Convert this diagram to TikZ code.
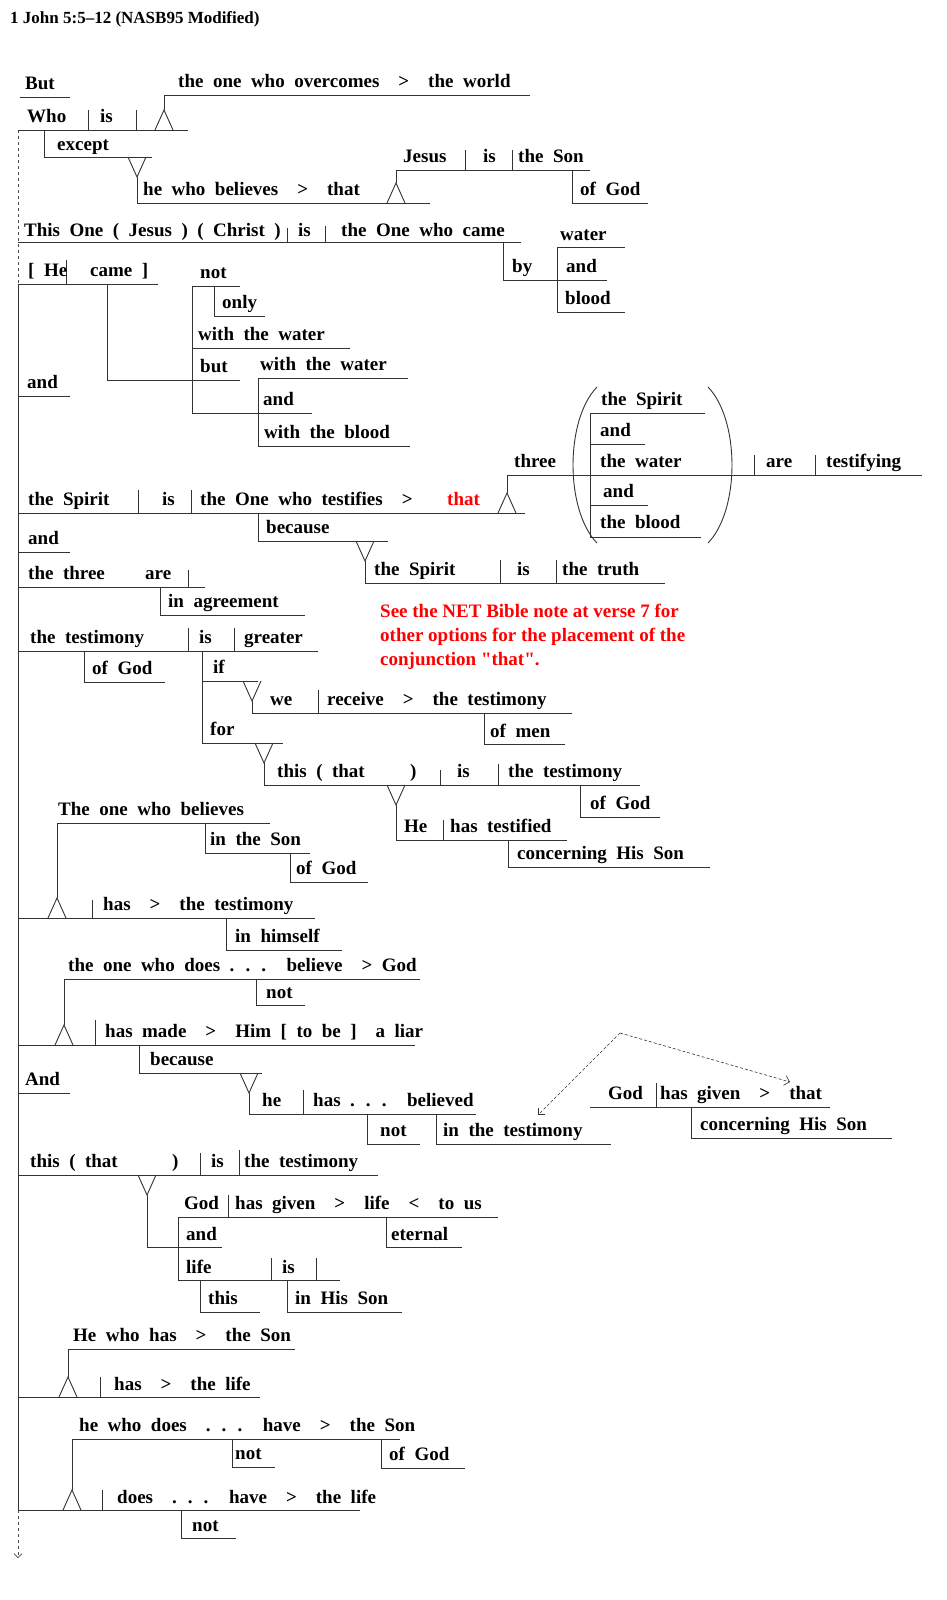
\documentclass[tikz,border=0pt]{standalone}
\usepackage{fontspec}
\setmainfont{Liberation Serif}[WordSpace=2.0]
\newfontfamily\notefont{Liberation Serif}
\usetikzlibrary{arrows.meta}
\newcounter{tn}
\newcommand\T[4][black]{\stepcounter{tn}\node[lbl,text=#1] (t\arabic{tn}) at (#2,#3) {#4};}
\newcommand\hln[3]{\draw[ln] (#1,#3) -- (#2,#3);}
\newcommand\vln[3]{\draw[ln] (#1,#2) -- (#1,#3);}
\newcommand\triup[2]{\draw[ln] (#1-9,#2) -- (#1,#2-20) -- (#1+9,#2);}
\newcommand\tridown[2]{\draw[ln] (#1-9,#2) -- (#1,#2+20) -- (#1+9,#2);}
\begin{document}
\begin{tikzpicture}[x=1pt,y=-1pt,
  lbl/.style={anchor=base west,inner sep=0pt,font=\fontsize{19}{21}\selectfont\bfseries},
  ln/.style={line width=0.9pt,black!80}]
\useasboundingbox (0,0) rectangle (947,1600);
\node[anchor=base west,inner sep=0pt,font=\notefont\fontsize{17}{19}\selectfont\bfseries] (title) at (10,24) {1 John 5:5–12 (NASB95 Modified)};
% left spine
\draw[line width=0.6pt,dashed,black!70] (18,130) -- (18,284);
\vln{18}{284}{1510}
\draw[line width=0.6pt,dashed,black!70,-{Straight Barb[length=4pt]}] (18,1510) -- (18,1558);
% block 1
\T{25}{90}{But}\hln{20}{70}{97}
\hln{18}{188}{130}\vln{88}{110}{130}\vln{136}{110}{130}
\T{27}{123}{Who}\T{100}{123}{is}
\triup{164}{130}\vln{164}{110}{95}\hln{164}{530}{95}
\T{178}{88}{the one who overcomes \ > \ the world}
\vln{44}{130}{157}\hln{44}{152}{157}\T{57}{150}{except}
\tridown{137}{157}\vln{137}{177}{203}\hln{137}{430}{203}
\T{143}{195}{he who believes \ > \ that}
\triup{396}{203}\vln{396}{183}{170}\hln{396}{590}{170}
\vln{465}{150}{170}\vln{512}{150}{170}
\T{403}{162}{Jesus}\T{483}{162}{is}\T{518}{162}{the Son}
\vln{572}{170}{203}\hln{572}{648}{203}\T{580}{195}{of God}
% block 2
\hln{18}{521}{242}\vln{287}{228}{242}\vln{325}{226}{242}
\T{24}{236}{This One ( Jesus ) ( Christ )}\T{298}{236}{is}\T{341}{236}{the One who came}
\vln{503}{242}{280}\hln{503}{557}{280}\T{512}{272}{by}
\vln{557}{247}{312}\hln{557}{625}{247}\hln{557}{607}{280}\hln{557}{625}{312}
\T{560}{240}{water}\T{566}{272}{and}\T{565}{304}{blood}
\hln{18}{158}{284}\vln{66}{260}{284}
\T{28}{276}{[ He}\T{90}{276}{came ]}
\vln{107}{284}{380}\hln{107}{192}{380}
\vln{192}{286}{413}
\hln{192}{240}{286}\T{200}{278}{not}
\vln{214}{286}{316}\hln{214}{265}{316}\T{222}{308}{only}
\hln{192}{350}{348}\T{198}{340}{with the water}
\hln{192}{240}{380}\T{200}{372}{but}
\hln{192}{258}{413}
\vln{258}{378}{446}
\hln{258}{408}{378}\T{260}{370}{with the water}
\hln{258}{312}{413}\T{263}{405}{and}
\hln{258}{410}{446}\T{264}{438}{with the blood}
\hln{18}{70}{396}\T{27}{388}{and}
% block 3
\hln{18}{525}{513}\vln{138}{490}{513}\vln{191}{490}{513}
\T{28}{505}{the Spirit}\T{162}{505}{is}\T{200}{505}{the One who testifies \ >}
\T[red]{447}{505}{that}
\triup{507}{513}\vln{507}{493}{475}\hln{507}{922}{475}
\T{514}{467}{three}
\vln{754}{455}{475}\vln{815}{455}{475}
\T{766}{467}{are}\T{826}{467}{testifying}
\draw[ln] (597,387) .. controls (565,420) and (565,510) .. (597,543);
\draw[ln] (708,387) .. controls (740,420) and (740,510) .. (708,543);
\vln{590}{413}{537}
\hln{590}{705}{413}\T{601}{405}{the Spirit}
\hln{590}{645}{444}\T{600}{436}{and}
\T{600}{467}{the water}
\hln{590}{648}{505}\T{603}{497}{and}
\hln{590}{701}{537}\T{600}{528}{the blood}
\vln{258}{513}{541}\hln{258}{388}{541}\T{266}{533}{because}
\tridown{365}{541}\vln{365}{561}{583}\hln{365}{665}{583}
\vln{500}{560}{583}\vln{556}{560}{583}
\T{374}{575}{the Spirit}\T{517}{575}{is}\T{562}{575}{the truth}
\hln{18}{70}{552}\T{28}{544}{and}
\hln{18}{205}{587}\vln{188}{570}{587}
\T{28}{579}{the three}\T{145}{579}{are}
\vln{160}{587}{615}\hln{160}{305}{615}\T{168}{607}{in agreement}
\node[anchor=north west,inner sep=0pt,align=left,text=red,font=\notefont\fontsize{19}{24}\selectfont\bfseries] (note) at (380,604)
 {See the NET Bible note at verse 7 for\\other options for the placement of the\\conjunction \textquotedbl that\textquotedbl.};
% block 4
\hln{18}{318}{651}\vln{188}{628}{651}\vln{234}{628}{651}
\T{30}{643}{the testimony}\T{199}{643}{is}\T{244}{643}{greater}
\vln{84}{651}{682}\hln{84}{165}{682}\T{92}{674}{of God}
\vln{202}{651}{743}
\hln{202}{258}{681}\T{213}{673}{if}
\hln{202}{283}{743}\T{210}{735}{for}
\tridown{252}{681}\vln{252}{701}{713}\hln{252}{572}{713}\vln{318}{690}{713}
\T{270}{705}{we}\T{327}{705}{receive \ > \ the testimony}
\vln{484}{713}{744}\hln{484}{565}{744}\T{490}{737}{of men}
\tridown{264}{743}\vln{264}{763}{785}\hln{264}{640}{785}
\vln{440}{770}{785}\vln{498}{764}{785}
\T{277}{777}{this ( that}\T{410}{777}{)}\T{457}{777}{is}\T{508}{777}{the testimony}
\vln{580}{785}{817}\hln{580}{660}{817}\T{590}{809}{of God}
\tridown{396}{785}\vln{396}{805}{840}\hln{396}{567}{840}\vln{443}{820}{840}
\T{404}{832}{He}\T{450}{832}{has testified}
\vln{508}{840}{867}\hln{508}{710}{867}\T{517}{859}{concerning His Son}
% block 5
\hln{57}{270}{823}\T{58}{815}{The one who believes}
\vln{57}{823}{898}
\vln{205}{823}{853}\hln{205}{310}{853}\T{210}{845}{in the Son}
\vln{290}{853}{882}\hln{290}{368}{882}\T{296}{874}{of God}
\triup{57}{918}\hln{18}{315}{918}\vln{92}{900}{918}
\T{103}{910}{has \ > \ the testimony}
\vln{226}{918}{950}\hln{226}{342}{950}\T{235}{942}{in himself}
% block 6
\hln{64}{420}{979}\T{68}{971}{the one who does . . . \ believe \ > God}
\vln{64}{979}{1025}
\vln{256}{979}{1005}\hln{256}{305}{1005}\T{266}{998}{not}
\triup{64}{1045}\hln{18}{415}{1045}\vln{95}{1020}{1045}
\T{105}{1037}{has made \ > \ Him [ to be ] \ a liar}
\vln{139}{1045}{1073}\hln{139}{262}{1073}\T{150}{1065}{because}
\hln{18}{70}{1093}\T{25}{1085}{And}
\tridown{249}{1073}\vln{249}{1093}{1114}\hln{249}{476}{1114}\vln{303}{1090}{1114}
\T{262}{1106}{he}\T{313}{1106}{has . . . \ believed}
\vln{367}{1114}{1144}\hln{367}{420}{1144}\T{380}{1136}{not}
\vln{436}{1114}{1144}\hln{436}{611}{1144}\T{443}{1136}{in the testimony}
\hln{590}{830}{1107}\vln{656}{1083}{1107}
\T{608}{1099}{God}\T{660}{1099}{has given \ > \ that}
\vln{691}{1107}{1138}\hln{691}{892}{1138}\T{700}{1130}{concerning His Son}
\coordinate (src) at (620,1033);
\coordinate (d1) at (538,1115);
\coordinate (d2) at (790,1082);
\draw[line width=0.6pt,densely dashed,black!80,-{Straight Barb[length=5pt]}] (src) -- (d1);
\draw[line width=0.6pt,densely dashed,black!80,-{Straight Barb[length=5pt]}] (src) -- (d2);
% block 7
\hln{18}{378}{1175}\vln{200}{1153}{1175}\vln{239}{1150}{1175}
\T{30}{1167}{this ( that}\T{172}{1167}{)}\T{211}{1167}{is}\T{244}{1167}{the testimony}
\tridown{147}{1175}\vln{147}{1195}{1247}\hln{147}{178}{1247}
\hln{178}{498}{1217}\vln{228}{1195}{1217}
\T{184}{1209}{God}\T{235}{1209}{has given \ > \ life \ < \ to us}
\vln{178}{1217}{1280}
\hln{178}{222}{1247}\T{186}{1240}{and}
\vln{386}{1217}{1247}\hln{386}{462}{1247}\T{391}{1240}{eternal}
\hln{178}{340}{1280}\vln{271}{1258}{1280}\vln{316}{1258}{1280}
\T{186}{1273}{life}\T{282}{1273}{is}
\vln{200}{1280}{1312}\hln{200}{260}{1312}\T{208}{1304}{this}
\vln{287}{1280}{1312}\hln{287}{402}{1312}\T{295}{1304}{in His Son}
% block 8
\hln{68}{295}{1349}\T{73}{1341}{He who has \ > \ the Son}
\vln{68}{1349}{1377}
\triup{68}{1397}\hln{18}{260}{1397}\vln{100}{1377}{1397}
\T{114}{1390}{has \ > \ the life}
% block 9
\hln{72}{400}{1439}\T{79}{1431}{he who does \ . . . \ have \ > \ the Son}
\vln{72}{1439}{1490}
\vln{232}{1439}{1467}\hln{232}{275}{1467}\T{235}{1459}{not}
\vln{381}{1439}{1468}\hln{381}{465}{1468}\T{389}{1460}{of God}
\triup{72}{1510}\hln{18}{360}{1510}\vln{102}{1490}{1510}
\T{117}{1503}{does \ . . . \ have \ > \ the life}
\vln{181}{1510}{1538}\hln{181}{236}{1538}\T{192}{1531}{not}
\end{tikzpicture}
\end{document}
